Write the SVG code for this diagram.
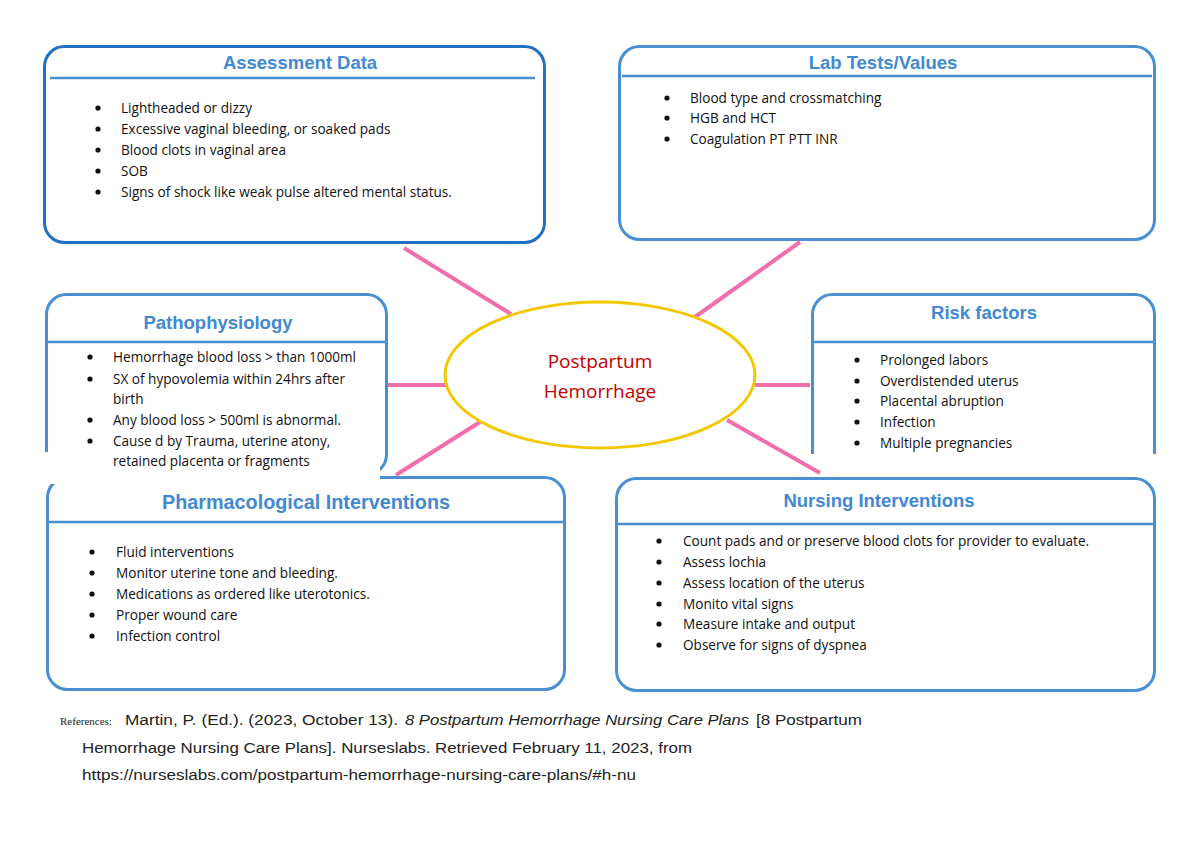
<svg xmlns="http://www.w3.org/2000/svg" width="1200" height="849" viewBox="0 0 1200 849">
<style>
.box{fill:none;stroke:#4a8fd0;stroke-width:3}
.dark{stroke:#2270c4}
.div{stroke:#4a8fd0;stroke-width:2.5}
.title{font-family:"Liberation Sans",Arial,sans-serif;font-weight:bold;font-size:18.5px;fill:#4189d0;text-anchor:middle}
.item{font-family:"Open Sans","Liberation Sans",sans-serif;font-size:13.6px;fill:#111}
.bul{fill:#111}
.con{stroke:#f06eaa;stroke-width:4;fill:none}
.mask{fill:#fff}
.ref{font-family:"Liberation Sans",Arial,sans-serif;font-size:15.5px;fill:#222}
</style>
<rect width="1200" height="849" fill="#fff"/>

<g id="assessment">
<rect class="box dark" x="44.5" y="46.5" width="500" height="196" rx="20"/>
<line class="div" x1="50" y1="78" x2="535" y2="78"/>
<text class="title" x="300" y="69">Assessment Data</text>
<g class="bul"><circle cx="98" cy="108" r="2.6"/><circle cx="98" cy="129" r="2.6"/><circle cx="98" cy="150" r="2.6"/><circle cx="98" cy="171" r="2.6"/><circle cx="98" cy="192" r="2.6"/></g>
<text class="item" x="121" y="113">Lightheaded or dizzy</text>
<text class="item" x="121" y="134">Excessive vaginal bleeding, or soaked pads</text>
<text class="item" x="121" y="155">Blood clots in vaginal area</text>
<text class="item" x="121" y="176">SOB</text>
<text class="item" x="121" y="197">Signs of shock like weak pulse altered mental status.</text>
</g>

<g id="lab">
<rect class="box" x="619.5" y="46.5" width="535" height="193" rx="20"/>
<line class="div" x1="622" y1="76" x2="1152" y2="76"/>
<text class="title" x="883" y="69">Lab Tests/Values</text>
<g class="bul"><circle cx="667" cy="98" r="2.6"/><circle cx="667" cy="118" r="2.6"/><circle cx="667" cy="139" r="2.6"/></g>
<text class="item" x="690" y="103">Blood type and crossmatching</text>
<text class="item" x="690" y="123">HGB and HCT</text>
<text class="item" x="690" y="144">Coagulation PT PTT INR</text>
</g>

<g id="risk">
<rect class="box" x="812.5" y="294.5" width="342" height="180" rx="20"/>
<rect class="mask" x="808" y="454" width="352" height="22"/>
<line class="div" x1="813" y1="342" x2="1153" y2="342"/>
<text class="title" x="984" y="319">Risk factors</text>
<g class="bul"><circle cx="857" cy="360" r="2.6"/><circle cx="857" cy="381" r="2.6"/><circle cx="857" cy="401" r="2.6"/><circle cx="857" cy="422" r="2.6"/><circle cx="857" cy="443" r="2.6"/></g>
<text class="item" x="880" y="365">Prolonged labors</text>
<text class="item" x="880" y="386">Overdistended uterus</text>
<text class="item" x="880" y="406">Placental abruption</text>
<text class="item" x="880" y="427">Infection</text>
<text class="item" x="880" y="448">Multiple pregnancies</text>
</g>

<g id="pharmacological">
<rect class="box" x="47.5" y="477.5" width="517" height="212" rx="20"/>
<line class="div" x1="48" y1="522" x2="563" y2="522"/>
<text class="title" x="306" y="509" style="font-size:19.8px">Pharmacological Interventions</text>
<g class="bul"><circle cx="92" cy="552" r="2.6"/><circle cx="92" cy="573" r="2.6"/><circle cx="92" cy="594" r="2.6"/><circle cx="92" cy="615" r="2.6"/><circle cx="92" cy="636" r="2.6"/></g>
<text class="item" x="116" y="557">Fluid interventions</text>
<text class="item" x="116" y="578">Monitor uterine tone and bleeding.</text>
<text class="item" x="116" y="599">Medications as ordered like uterotonics.</text>
<text class="item" x="116" y="620">Proper wound care</text>
<text class="item" x="116" y="641">Infection control</text>
</g>

<g id="pathophysiology">
<rect class="box" x="46.5" y="294.5" width="340" height="180" rx="20"/>
<rect class="mask" x="42" y="452" width="338" height="32"/>
<line class="div" x1="47" y1="342" x2="386" y2="342"/>
<text class="title" x="218" y="329">Pathophysiology</text>
<g class="bul"><circle cx="90" cy="357" r="2.6"/><circle cx="90" cy="379" r="2.6"/><circle cx="90" cy="420" r="2.6"/><circle cx="90" cy="441" r="2.6"/></g>
<text class="item" x="113" y="362">Hemorrhage blood loss &gt; than 1000ml</text>
<text class="item" x="113" y="384">SX of hypovolemia within 24hrs after</text>
<text class="item" x="113" y="404">birth</text>
<text class="item" x="113" y="425">Any blood loss &gt; 500ml is abnormal.</text>
<text class="item" x="113" y="446">Cause d by Trauma, uterine atony,</text>
<text class="item" x="113" y="466">retained placenta or fragments</text>
</g>

<g id="nursing">
<rect class="box" x="616.5" y="478.5" width="538" height="212" rx="20"/>
<line class="div" x1="617" y1="524" x2="1153" y2="524"/>
<text class="title" x="879" y="507">Nursing Interventions</text>
<g class="bul"><circle cx="659" cy="541" r="2.6"/><circle cx="659" cy="562" r="2.6"/><circle cx="659" cy="583" r="2.6"/><circle cx="659" cy="604" r="2.6"/><circle cx="659" cy="624" r="2.6"/><circle cx="659" cy="645" r="2.6"/></g>
<text class="item" x="683" y="546">Count pads and or preserve blood clots for provider to evaluate.</text>
<text class="item" x="683" y="567">Assess lochia</text>
<text class="item" x="683" y="588">Assess location of the uterus</text>
<text class="item" x="683" y="609">Monito vital signs</text>
<text class="item" x="683" y="629">Measure intake and output</text>
<text class="item" x="683" y="650">Observe for signs of dyspnea</text>
</g>

<g id="connectors">
<line class="con" x1="404" y1="248" x2="511" y2="314"/>
<line class="con" x1="695" y1="317" x2="800" y2="242"/>
<line class="con" x1="388" y1="385" x2="446" y2="385"/>
<line class="con" x1="755" y1="385" x2="810" y2="385"/>
<line class="con" x1="480" y1="422" x2="396" y2="475"/>
<line class="con" x1="727" y1="420" x2="820" y2="473"/>
</g>

<g id="center">
<ellipse cx="600" cy="375" rx="155" ry="73" fill="#fff" stroke="#f2c800" stroke-width="3"/>
<text x="600" y="368" font-family="'Open Sans','Liberation Sans',sans-serif" font-size="19" fill="#c00000" text-anchor="middle">Postpartum</text>
<text x="600" y="398" font-family="'Open Sans','Liberation Sans',sans-serif" font-size="19" fill="#c00000" text-anchor="middle">Hemorrhage</text>
</g>

<g id="references">
<text x="60" y="725" font-family="'Liberation Serif',serif" font-size="11" fill="#222">References:</text>
<text class="ref" x="125" y="725" textLength="273" lengthAdjust="spacingAndGlyphs">Martin, P. (Ed.). (2023, October 13).</text>
<text class="ref" x="405" y="725" font-style="italic" textLength="344" lengthAdjust="spacingAndGlyphs">8 Postpartum Hemorrhage Nursing Care Plans</text>
<text class="ref" x="756" y="725" textLength="106" lengthAdjust="spacingAndGlyphs">[8 Postpartum</text>
<text class="ref" x="82" y="753" textLength="610" lengthAdjust="spacingAndGlyphs">Hemorrhage Nursing Care Plans]. Nurseslabs. Retrieved February 11, 2023, from</text>
<text class="ref" x="82" y="780" textLength="554" lengthAdjust="spacingAndGlyphs">https://nurseslabs.com/postpartum-hemorrhage-nursing-care-plans/#h-nu</text>
</g>
</svg>
